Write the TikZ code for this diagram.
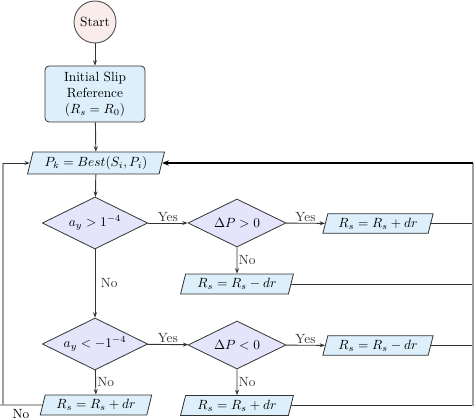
\documentclass[tikz,border=0pt]{standalone}
\usetikzlibrary{shapes.geometric,arrows.meta}
\definecolor{boxblue}{HTML}{DCEFFA}
\definecolor{diafill}{HTML}{E4E4FA}
\definecolor{startfill}{HTML}{FBECEC}
\definecolor{startdraw}{HTML}{555555}
\definecolor{edge}{HTML}{333333}
\tikzset{
  startnode/.style={circle,draw=startdraw,fill=startfill,line width=0.7pt,minimum size=31.5pt,inner sep=0pt},
  initbox/.style={rectangle,rounded corners=3pt,draw=edge,fill=boxblue,line width=0.6pt,minimum width=75pt,minimum height=42pt,align=center,inner sep=1pt},
  iobox/.style={trapezium,trapezium left angle=74,trapezium right angle=106,trapezium stretches=true,draw=edge,fill=boxblue,line width=0.6pt,inner sep=1pt},
  decision/.style={diamond,aspect=2,draw=edge,fill=diafill,line width=0.6pt,inner sep=0pt},
  arr/.style={-{Stealth[length=4pt,width=3pt]},line width=0.7pt,edge},
  plain/.style={line width=0.6pt,edge},
  loopline/.style={line width=1.3pt,gray!75},
  lbl/.style={inner sep=1pt}
}
\begin{document}
\begin{tikzpicture}[x=0.75pt,y=-0.75pt]
\useasboundingbox (0,0) rectangle (474,420);
\node[startnode] (start) at (95,22) {Start};
\node[initbox] (init) at (95,94) {Initial Slip\\Reference\\$(R_s = R_0)$};
\node[iobox,minimum width=103pt,minimum height=16.5pt] (pk) at (96,163) {$P_k = Best(S_i, P_i)$};
\node[decision,minimum width=79pt,minimum height=39pt] (d1) at (95,223) {$a_y > 1^{-4}$};
\node[decision,minimum width=73.5pt,minimum height=36pt] (d2) at (237,223) {$\Delta P > 0$};
\node[iobox,minimum width=83pt,minimum height=14.5pt] (b1) at (378,223.5) {$R_s = R_s + dr$};
\node[iobox,minimum width=85pt,minimum height=15pt] (b2) at (237,284) {$R_s = R_s - dr$};
\node[decision,minimum width=79pt,minimum height=39pt] (d3) at (95,344) {$a_y < -1^{-4}$};
\node[decision,minimum width=73.5pt,minimum height=36pt] (d4) at (237,345) {$\Delta P < 0$};
\node[iobox,minimum width=83pt,minimum height=14.5pt] (b3) at (378,345.5) {$R_s = R_s - dr$};
\node[iobox,minimum width=85pt,minimum height=15pt] (b4) at (237,405.5) {$R_s = R_s + dr$};
\node[iobox,minimum width=84pt,minimum height=15pt] (b5) at (96,405) {$R_s = R_s + dr$};
\coordinate (R) at (473,406);
\coordinate (L) at (3,405);
\coordinate (Lend) at (0,405);
% main flow
\draw[arr] (start) -- (init);
\draw[arr] (init) -- (pk);
\draw[arr] (pk) -- (d1);
\draw[arr] (d1) -- node[lbl,above,pos=0.5] {Yes} (d2);
\draw[arr] (d2) -- node[lbl,above,pos=0.5] {Yes} (b1);
\draw[arr] (d2) -- node[lbl,right,pos=0.5] {No} (b2);
\draw[arr] (d1) -- node[lbl,right,pos=0.5,xshift=3pt] {No} (d3);
\draw[arr] (d3) -- node[lbl,above,pos=0.5] {Yes} (d4);
\draw[arr] (d4) -- node[lbl,above,pos=0.5] {Yes} (b3);
\draw[arr] (d4) -- node[lbl,right,pos=0.5] {No} (b4);
\draw[arr] (d3) -- node[lbl,right,pos=0.5] {No} (b5);
% feedback lines
\draw[plain] (b1.east) -- (b1.east -| R);
\draw[plain] (b2.east) -- (b2.east -| R);
\draw[plain] (b3.east) -- (b3.east -| R);
\draw[plain] (b4.east) -- (b4.east -| R);
\draw[loopline] (R) -- (R |- pk.east);
\draw[-{Stealth[length=5pt,width=4pt]},line width=1.1pt,black] (R |- pk.east) -- (pk.east);
\draw[plain] (b5.west) -- (Lend);
\draw[loopline] (L) -- (L |- pk.west);
\draw[arr] (L |- pk.west) -- (pk.west);
\node[lbl] (nol) at (21,414) {No};
\end{tikzpicture}
\end{document}
